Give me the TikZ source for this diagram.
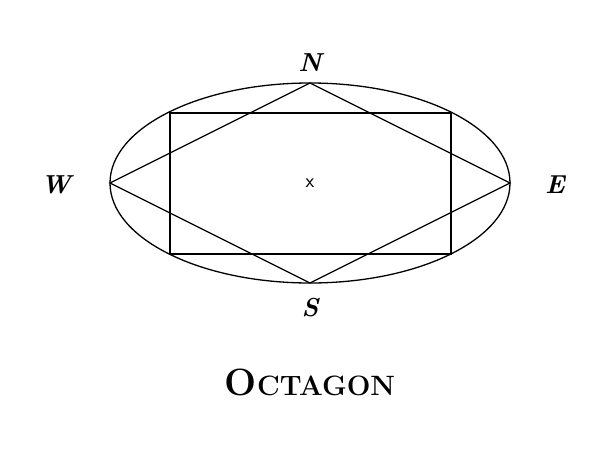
\documentclass[tikz,border=0pt]{standalone}
\begin{document}
\begin{tikzpicture}[x=1pt,y=-1pt,line width=1.3pt,
  lbl/.style={font=\fontsize{26}{30}\selectfont\bfseries\itshape},
  shp/.style={draw=black}]
\useasboundingbox (0,0) rectangle (600,450);
\coordinate (c) at (310,183);
\coordinate (N) at (310,83);
\coordinate (E) at (510,183);
\coordinate (S) at (310,283);
\coordinate (W) at (110,183);
\draw[shp] (c) ellipse [x radius=200pt, y radius=100pt];
\draw[shp,line width=1.6pt] (170,113) rectangle (451,254);
\draw[shp] (N) -- (E) -- (S) -- (W) -- cycle;
\node[font=\fontsize{20}{24}\selectfont\sffamily] (x) at (c) {x};
\node[lbl] (nl) at (310,63) {N};
\node[lbl] (sl) at (310,308) {S};
\node[lbl] (wl) at (56,185) {W};
\node[lbl] (el) at (555,185) {E};
\node[font=\bfseries] (t) at (310,382) {\fontsize{38}{40}\selectfont O\fontsize{28}{30}\selectfont CTAGON};
\end{tikzpicture}
\end{document}
